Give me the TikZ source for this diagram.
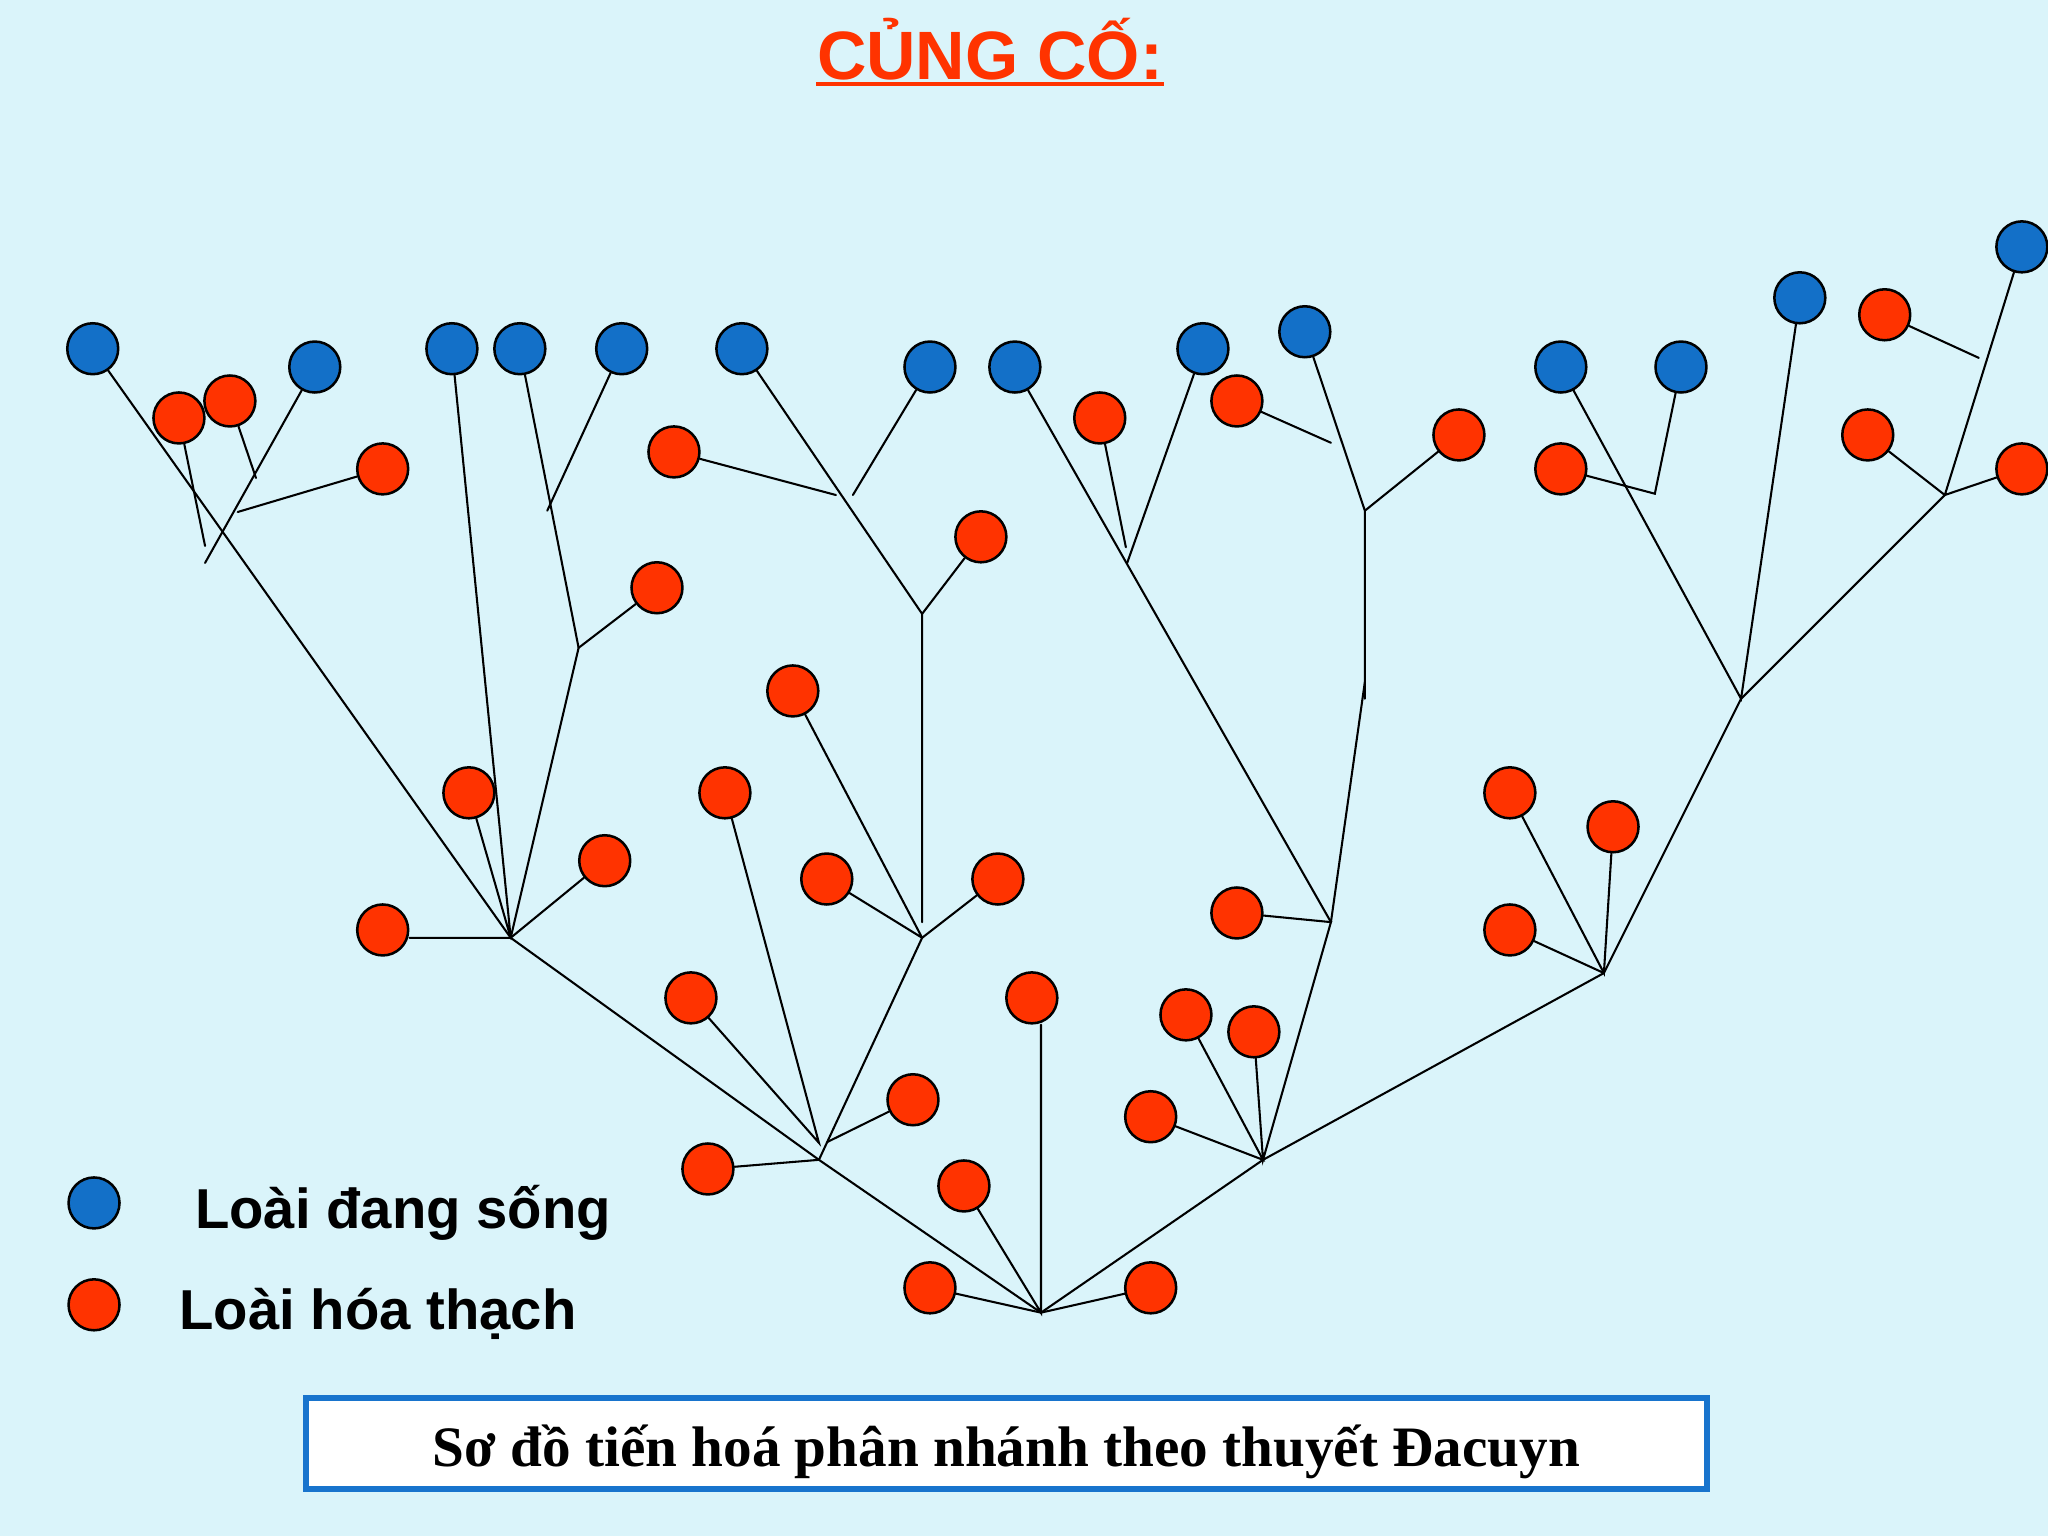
\documentclass[tikz,border=0pt]{standalone}
\usepackage{fontspec}
\setmainfont{Liberation Serif}
\setsansfont{Liberation Sans}
\usetikzlibrary{calc,positioning}
\definecolor{bgcyan}{HTML}{DAF4FA}
\definecolor{fosred}{HTML}{FF3300}
\definecolor{livblue}{HTML}{1370C8}
\definecolor{boxblue}{HTML}{1874CD}

\begin{document}
\begin{tikzpicture}[x=0.01cm,y=-0.01cm,
    sp/.style={circle,draw=black,line width=0.55pt,inner sep=0pt,minimum size=0.39cm},
    alive/.style={sp,fill=livblue},
    fossil/.style={sp,fill=fosred},
    br/.style={line width=0.45pt,line cap=round}]
        \fill[bgcyan] (0,0) rectangle (1568,1176);
        \useasboundingbox (0,0) rectangle (1568,1176);

        \node[anchor=base,inner sep=0pt,text=fosred,font=\sffamily\bfseries\fontsize{14.9}{18}\selectfont] (title) at (758,61) {CỦNG CỐ:};
        \fill[fosred] ($(title.base west)+(0,1.5)$) rectangle ($(title.base east)+(0,4.5)$);

        % branch points
        \coordinate (o) at (797,1005);
        \coordinate (l1) at (627,888);   \coordinate (l1a) at (627,875);
        \coordinate (l2) at (391,718);   \coordinate (l3) at (706,718);
        \coordinate (l4) at (706,470);   \coordinate (l4e) at (706,706);
        \coordinate (l5) at (443,496);
        \coordinate (m1) at (967,888);   \coordinate (m3) at (1019,706);
        \coordinate (m4) at (863,431);   \coordinate (m5) at (1045,391);
        \coordinate (m5e) at (1045,535); \coordinate (m6) at (1045,522);
        \coordinate (n0) at (1228,745);  \coordinate (n1) at (1333,535);
        \coordinate (n2) at (1267,378);  \coordinate (n3) at (1489,379);

        % loose ends
        \coordinate (r1e) at (157,418);  \coordinate (r2e) at (196,366);
        \coordinate (b2e) at (157,431);  \coordinate (r3e) at (182,392);
        \coordinate (b5e) at (419,391);  \coordinate (r4e) at (640,379);
        \coordinate (b7e) at (653,379);  \coordinate (r7e) at (862,419);
        \coordinate (r8e) at (1019,339); \coordinate (r11e) at (1515,274);

        \node[alive] (b1) at (71,267) {};    \node[alive] (b2) at (241,281) {};
        \node[alive] (b3) at (346,267) {};   \node[alive] (b4) at (398,267) {};
        \node[alive] (b5) at (476,267) {};   \node[alive] (b6) at (568,267) {};
        \node[alive] (b7) at (712,281) {};   \node[alive] (b8) at (777,281) {};
        \node[alive] (b9) at (921,267) {};   \node[alive] (b10) at (999,254) {};
        \node[alive] (b11) at (1195,281) {}; \node[alive] (b12) at (1287,281) {};
        \node[alive] (b13) at (1378,228) {}; \node[alive] (b14) at (1548,189) {};

        \node[fossil] (r1) at (137,320) {};   \node[fossil] (r2) at (176,307) {};
        \node[fossil] (r3) at (293,359) {};   \node[fossil] (r4) at (516,346) {};
        \node[fossil] (r5) at (503,450) {};   \node[fossil] (r6) at (751,411) {};
        \node[fossil] (r7) at (842,320) {};   \node[fossil] (r8) at (947,307) {};
        \node[fossil] (r9) at (1117,333) {};  \node[fossil] (r10) at (1195,359) {};
        \node[fossil] (r11) at (1443,241) {}; \node[fossil] (r12) at (1430,333) {};
        \node[fossil] (r13) at (1548,359) {}; \node[fossil] (r14) at (607,529) {};
        \node[fossil] (r15) at (359,607) {};  \node[fossil] (r16) at (463,659) {};
        \node[fossil] (r17) at (293,712) {};  \node[fossil] (r18) at (555,607) {};
        \node[fossil] (r19) at (633,673) {};  \node[fossil] (r20) at (764,673) {};
        \node[fossil] (r21) at (529,764) {};  \node[fossil] (r22) at (699,842) {};
        \node[fossil] (r23) at (542,895) {};  \node[fossil] (r24) at (790,764) {};
        \node[fossil] (r25) at (738,908) {};  \node[fossil] (r26) at (712,986) {};
        \node[fossil] (r27) at (881,986) {};  \node[fossil] (r28) at (947,699) {};
        \node[fossil] (r29) at (908,777) {};  \node[fossil] (r30) at (960,790) {};
        \node[fossil] (r31) at (881,855) {};  \node[fossil] (r32) at (1156,607) {};
        \node[fossil] (r33) at (1235,633) {}; \node[fossil] (r34) at (1156,712) {};

        % trunk
        \draw[br] (r26) -- (o) -- (r27);
        \draw[br] (r25) -- (o) -- (o |- r24.south);
        \draw[br] (l2) -- (l1) -- (o) -- (m1) -- (n0) -- (n1);

        % left part
        \draw[br] (r23) -- (l1) -- (l3);
        \draw[br] (r21) -- (l1a) -- (r18);
        \draw[br] (r22) -- ($(l1)!0.08!(l3)$);
        \draw[br] (r17.east |- l2) -- (l2) -- (r16);
        \draw[br] (r15) -- (l2) -- (b3);
        \draw[br] (b1) -- (l2) -- (l5) -- (r5);
        \draw[br] (l5) -- (b4);
        \draw[br] (b5) -- (b5e);
        \draw[br] (r1) -- (r1e);
        \draw[br] (r2) -- (r2e);
        \draw[br] (b2) -- (b2e);
        \draw[br] (r3) -- (r3e);
        \draw[br] (r19) -- (l3) -- (r20);
        \draw[br] (r14) -- (l3);
        \draw[br] (l4e) -- (l4) -- (r6);
        \draw[br] (l4) -- (b6);
        \draw[br] (r4) -- (r4e);
        \draw[br] (b7) -- (b7e);

        % middle part
        \draw[br] (r31) -- (m1) -- (r29);
        \draw[br] (r30) -- (m1) -- (m3) -- (r28);
        \draw[br] (m3) -- (b8);
        \draw[br] (m4) -- (b9);
        \draw[br] (r7) -- (r7e);
        \draw[br] (r8) -- (r8e);
        \draw[br] (m3) -- (m6);
        \draw[br] (m5e) -- (m5) -- (b10);
        \draw[br] (m5) -- (r9);

        % right part
        \draw[br] (r32) -- (n0) -- (r33);
        \draw[br] (r34) -- (n0);
        \draw[br] (b11) -- (n1) -- (b13);
        \draw[br] (n1) -- (n3) -- (r12);
        \draw[br] (r13) -- (n3) -- (b14);
        \draw[br] (r10) -- (n2) -- (b12);
        \draw[br] (r11) -- (r11e);

        % legend
        \node[alive] (lgb) at (72,921) {};
        \node[fossil] (lgr) at (72,999) {};
        \node[anchor=base west,inner sep=0pt,font=\sffamily\bfseries\fontsize{12.25}{14}\selectfont] (lgbt) at (148.7,940.5) {Loài đang sống};
        \node[anchor=base west,inner sep=0pt,font=\sffamily\bfseries\fontsize{12.25}{14}\selectfont] (lgrt) at (136.7,1018) {Loài hóa thạch};

        \node[draw=boxblue,line width=1.3pt,fill=white,inner sep=0pt,minimum width=10.72cm,minimum height=0.694cm,text height=0.35cm,text depth=0pt,font=\rmfamily\bfseries\fontsize{12.45}{14}\selectfont] (caption) at (770.5,1105) {Sơ đồ tiến hoá phân nhánh theo thuyết Đacuyn};
\end{tikzpicture}
\end{document}
